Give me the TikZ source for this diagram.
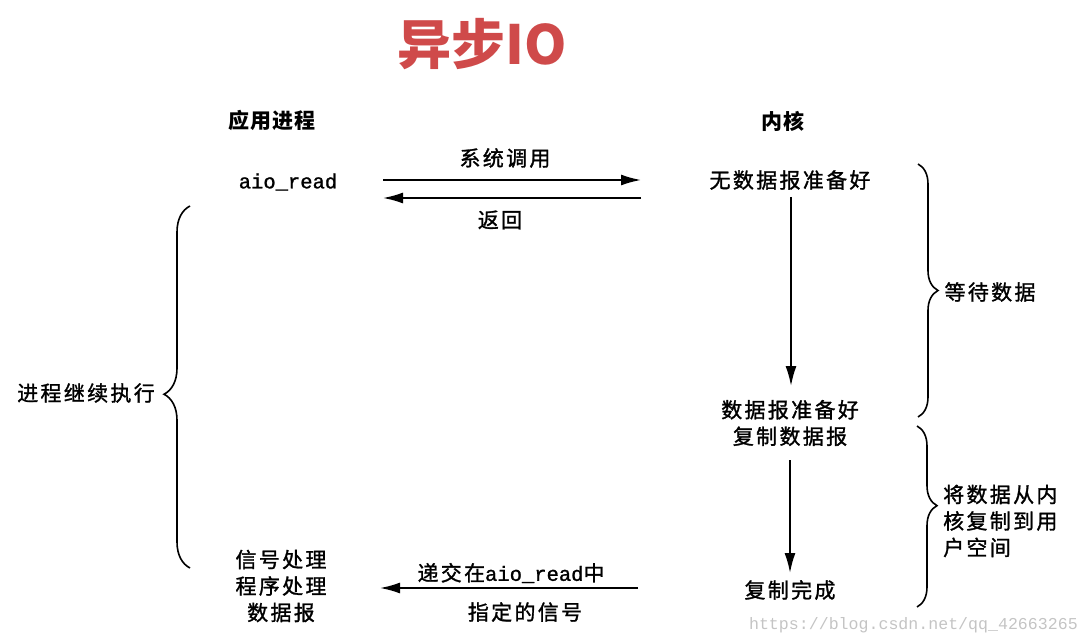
\documentclass[tikz,border=0pt]{standalone}
\usepackage{fontspec}
\setmainfont{Noto Sans CJK SC}
\newfontfamily\cjkf[LetterSpace=11,FakeBold=1.3]{Noto Sans CJK SC}
\newfontfamily\cjkb[LetterSpace=6]{Noto Sans CJK SC}
\newfontfamily\monof[FakeBold=1.2]{Liberation Mono}
\newfontfamily\wmf{Liberation Mono}
\usetikzlibrary{arrows.meta,decorations.pathreplacing}
\definecolor{titlered}{HTML}{CF4A4A}
\definecolor{wmgray}{HTML}{C4C4C4}
\begin{document}
\begin{tikzpicture}[x=1pt,y=-1pt,
  txt/.style={inner sep=0pt,font=\cjkf\fontsize{21}{26.5}\selectfont,align=center},
  hd/.style={inner sep=0pt,font=\cjkb\fontsize{21}{26.5}\selectfont\bfseries},
  arr/.style={line width=1.8pt,-{Latex[length=20pt,width=11pt]}},
  brc/.style={line width=1.6pt,decorate,decoration={brace,amplitude=20pt,raise=0pt}}]
\useasboundingbox (0,0) rectangle (1087,644);
% title
\node[inner sep=0pt,text=titlered,font=\fontsize{54}{60}\selectfont\bfseries] (title) at (482,44) {异步IO};
% headers
\node[hd] (app) at (272,120) {应用进程};
\node[hd] (kern) at (783,121) {内核};
% left column
\node[inner sep=0pt,font=\monof\fontsize{20.5}{24}\selectfont] (aio) at (288,182) {aio\_read};
\node[txt] (sig) at (281,586) {信号处理\\程序处理\\数据报};
\node[txt] (cont) at (86,393) {进程继续执行};
% kernel column
\node[txt] (nodata) at (790,180) {无数据报准备好};
\node[txt] (ready) at (790,423) {数据报准备好\\复制数据报};
\node[txt] (done) at (790,590) {复制完成};
% arrow end points
\coordinate (c1a) at (383,180);
\coordinate (c1b) at (641,180);
\coordinate (c2a) at (641,198);
\coordinate (c2b) at (383,198);
\coordinate (c3a) at (638,588);
\coordinate (c3b) at (380,588);
\coordinate (v1a) at (791,197);
\coordinate (v1b) at (791,386);
\coordinate (v2a) at (790,460);
\coordinate (v2b) at (790,573);
\draw[arr] (c1a) -- (c1b);
\draw[arr] (c2a) -- (c2b);
\draw[arr] (c3a) -- (c3b);
\draw[arr] (v1a) -- (v1b);
\draw[arr] (v2a) -- (v2b);
% arrow labels
\node[txt] (call) at (505,158) {系统调用};
\node[txt] (ret) at (500,220) {返回};
\node[txt] (deliv) at (511,573) {递交在{\monof\fontsize{20.5}{24}\selectfont aio\_read}中};
\node[txt] (spec) at (525,612) {指定的信号};
% braces
\coordinate (b1a) at (918,164);
\coordinate (b1b) at (918,417);
\coordinate (b2a) at (917,426);
\coordinate (b2b) at (917,607);
\coordinate (b3a) at (190,568);
\coordinate (b3b) at (190,206);
\draw[brc,decoration={aspect=0.5}] (b1a) -- (b1b);
\draw[brc,decoration={aspect=0.44}] (b2a) -- (b2b);
\draw[brc,decoration={amplitude=26pt,aspect=0.48}] (b3a) -- (b3b);
\node[txt] (wait) at (990,292) {等待数据};
\node[txt,align=left,anchor=west] (copy) at (943,521) {将数据从内\\核复制到用\\户空间};
% watermark
\node[inner sep=0pt,text=wmgray,font=\wmf\fontsize{16.6}{20}\selectfont,anchor=east] (wm) at (1078,625) {https://blog.csdn.net/qq\_42663265};
\end{tikzpicture}
\end{document}
